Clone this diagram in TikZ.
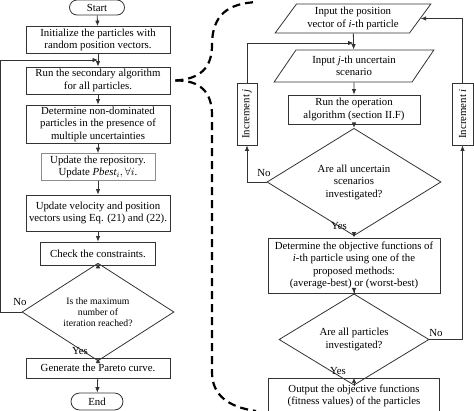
\documentclass[tikz,border=0pt]{standalone}
\usepackage{fontspec}
\setmainfont{Liberation Serif}
\usetikzlibrary{positioning,shapes.geometric,shapes.misc,arrows.meta}

\begin{document}
\begin{tikzpicture}
            [x=1pt, y=-1pt,
            >={Latex[length=5.5pt,width=4.5pt]},
            procbox/.style={draw=black!80, line width=0.8pt, rectangle,
            align=center, inner sep=1pt,
            font=\fontsize{10.8}{12.5}\selectfont},
            iobox/.style={procbox, trapezium, trapezium left angle=54,
            trapezium right angle=126, trapezium stretches=true},
            decbox/.style={procbox, diamond, inner sep=0pt},
            termbox/.style={procbox, rounded rectangle},
            lbl/.style={font=\fontsize{10.8}{12.5}\selectfont, inner sep=0pt},
            flow/.style={draw=black!80, line width=0.8pt, ->},
            brace/.style={draw=black, line width=2.2pt, dash pattern=on 8pt off 5pt}]
            \useasboundingbox (0,0) rectangle (474,410);
            % main loop (left)
            \node[termbox, minimum width=57, minimum height=15] (start) at (97,7.5) {Start};
            \node[procbox, minimum width=144, minimum height=27] (init) at (98,40) {Initialize the particles with\\random position vectors.};
            \node[procbox, minimum width=144, minimum height=27] (run) at (98,80.5) {Run the secondary algorithm\\for all particles.};
            \node[procbox, minimum width=144, minimum height=38] (nondom) at (98,124) {Determine non-dominated\\particles in the presence of\\multiple uncertainties};
            \node[procbox, draw=black!45, minimum width=114, minimum height=27] (repo) at (98,167) {Update the repository.\\Update $\mathit{Pbest}_i,\forall i$.};
            \node[procbox, minimum width=144, minimum height=36] (vel) at (98,213) {Update velocity and position\\vectors using Eq. (21) and (22).};
            \node[procbox, minimum width=115, minimum height=23] (check) at (98,253.5) {Check the constraints.};
            \node[decbox, minimum width=152, minimum height=73, font=\fontsize{9.7}{10.8}\selectfont] (dmax) at (98,312) {Is the maximum\\number of\\iteration reached?};
            \node[procbox, minimum width=144, minimum height=20] (pareto) at (98,368) {Generate the Pareto curve.};
            \node[termbox, minimum width=54, minimum height=17] (endn) at (97,401.5) {End};
            \node[lbl] (nomax) at (20,302) {No};
            \node[lbl] (yesmax) at (80,351) {Yes};
            \coordinate (back) at (0.8,60);
            \draw[flow] (start) -- (init);
            \draw[flow] (init) -- (run);
            \draw[flow] (run) -- (nondom);
            \draw[flow] (nondom) -- (repo);
            \draw[flow] (repo) -- (vel);
            \draw[flow] (vel) -- (check);
            \draw[flow] (check) -- (dmax);
            \draw[flow] (dmax) -- (pareto);
            \draw[flow] (pareto) -- (endn);
            \draw[flow] (dmax.west) -- (dmax.west -| back) -- (back) -- (back -| init.south);
            % secondary algorithm (right)
            \node[iobox, minimum width=156, minimum height=29] (para1) at (353,18.5) {Input the position\\vector of \textit{i}-th particle};
            \node[iobox, minimum width=160, minimum height=32] (para2) at (354,66) {Input \textit{j}-th uncertain\\scenario};
            \node[procbox, minimum width=132, minimum height=29] (runop) at (354,109.5) {Run the operation\\algorithm (section II.F)};
            \node[decbox, minimum width=174, minimum height=79] (dsc) at (354,182) {Are all uncertain\\scenarios\\investigated?};
            \node[procbox, minimum width=172, minimum height=55] (detobj) at (354,265.5) {Determine the objective functions of\\\textit{i}-th particle using one of the\\proposed methods:\\(average-best) or (worst-best)};
            \node[decbox, minimum width=150, minimum height=57] (dpart) at (354,339.5) {Are all particles\\investigated?};
            \node[procbox, minimum width=171, minimum height=36] (outp) at (354,396) {Output the objective functions\\(fitness values) of the particles};
            \node[procbox, rotate=90, minimum width=62, minimum height=20] (incj) at (247,114) {Increment \textit{j}};
            \node[procbox, rotate=90, minimum width=62, minimum height=21] (inci) at (462.5,114) {Increment \textit{i}};
            \node[lbl] (nosc) at (264,173) {No};
            \node[lbl] (yessc) at (339,226) {Yes};
            \node[lbl] (nopart) at (436,333) {No};
            \node[lbl] (yespart) at (338,371) {Yes};
            \coordinate (jin) at (353.5,43);
            \draw[flow] (para1) -- (para2);
            \draw[flow] (para2) -- (runop);
            \draw[flow] (runop) -- (dsc);
            \draw[flow] (dsc) -- (detobj);
            \draw[flow] (detobj) -- (dpart);
            \draw[flow] (dpart) -- (outp);
            \draw[flow] (dsc.west) -| (incj.west);
            \draw[flow] (incj.east) |- (jin);
            \draw[flow] (dpart.east) -| (inci.west);
            \draw[flow] (inci.east) |- (para1.east);
            % dashed brace
            \draw[brace] ([xshift=5pt]run.east) .. controls (200,79) and (212,68) .. (212,45)
                .. controls (212,15) and (228,3) .. (258,2);
            \draw[brace] ([xshift=5pt]run.east) .. controls (200,80) and (212,92) .. (212,115)
                -- (212,372) .. controls (212,395) and (228,407) .. (256,411);
\end{tikzpicture}
\end{document}
